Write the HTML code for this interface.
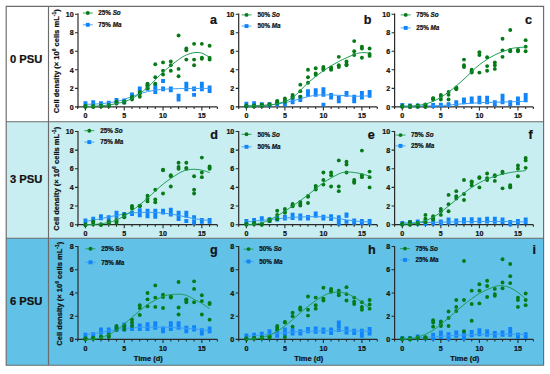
<!DOCTYPE html><html><head><meta charset="utf-8"><style>
html,body{margin:0;padding:0;background:#fff;}
svg{display:block;font-family:"Liberation Sans",sans-serif;font-weight:bold;}
text{stroke:#111;stroke-width:0.22px;}
.tk{font-size:7.1px;fill:#111;}
.lg{font-size:6.3px;fill:#111;}
.yl{font-size:7.55px;fill:#111;}
.sup{font-size:5px;}
.tl{font-size:7.5px;fill:#111;}
.lt{font-size:12.6px;fill:#111;}
.psu{font-size:11.2px;fill:#111;}
</style></head><body>
<svg width="550" height="374" viewBox="0 0 550 374">
<rect width="550" height="374" fill="#fff"/>
<rect x="6.2" y="6" width="537.4" height="115.7" fill="#ffffff"/>
<rect x="6.2" y="121.7" width="537.4" height="116.5" fill="#c9eef1"/>
<rect x="6.2" y="238.2" width="537.4" height="127.1" fill="#62c1e6"/>
<path d="M6.2 6.3H543.6V365.2H6.2ZM48.5 6.3V365.2M6.2 121.7H543.6M6.2 238.2H543.6" stroke="#6b6b6b" stroke-width="1.15" fill="none"/>
<text x="26.2" y="62.8" text-anchor="middle" class="psu">0 PSU</text>
<text x="26.2" y="182.6" text-anchor="middle" class="psu">3 PSU</text>
<text x="26.2" y="304.6" text-anchor="middle" class="psu">6 PSU</text>
<g fill="#077a17">
<path d="M78 13.6V107.5" stroke="#2a2a2a" stroke-width="1.2" fill="none"/>
<path d="M77.4 106.9H217.37" stroke="#2a2a2a" stroke-width="1.2" fill="none"/>
<text x="73.6" y="109.6" text-anchor="end" class="tk">0</text>
<text x="73.6" y="91.06" text-anchor="end" class="tk">2</text>
<text x="73.6" y="72.52" text-anchor="end" class="tk">4</text>
<text x="73.6" y="53.98" text-anchor="end" class="tk">6</text>
<text x="73.6" y="35.44" text-anchor="end" class="tk">8</text>
<text x="73.6" y="16.9" text-anchor="end" class="tk">10</text>
<text x="85.45" y="118.1" text-anchor="middle" class="tk">0</text>
<text x="124.25" y="118.1" text-anchor="middle" class="tk">5</text>
<text x="163.05" y="118.1" text-anchor="middle" class="tk">10</text>
<text x="201.85" y="118.1" text-anchor="middle" class="tk">15</text>
<path d="M75 106.9H78M75 88.36H78M75 69.82H78M75 51.28H78M75 32.74H78M75 14.2H78M77.69 106.9V108.9M85.45 106.9V110.5M93.21 106.9V108.9M100.97 106.9V108.9M108.73 106.9V108.9M116.49 106.9V108.9M124.25 106.9V110.5M132.01 106.9V108.9M139.77 106.9V108.9M147.53 106.9V108.9M155.29 106.9V108.9M163.05 106.9V110.5M170.81 106.9V108.9M178.57 106.9V108.9M186.33 106.9V108.9M194.09 106.9V108.9M201.85 106.9V110.5M209.61 106.9V108.9M217.37 106.9V108.9" stroke="#2a2a2a" stroke-width="1.1" fill="none"/>
<path d="M83.5 102.17h3.9v3.9h-3.9zM83.5 101.71h3.9v3.9h-3.9zM83.5 101.24h3.9v3.9h-3.9zM91.26 101.71h3.9v3.9h-3.9zM91.26 101.24h3.9v3.9h-3.9zM91.26 100.31h3.9v3.9h-3.9zM99.02 102.17h3.9v3.9h-3.9zM99.02 101.71h3.9v3.9h-3.9zM99.02 101.24h3.9v3.9h-3.9zM106.78 101.71h3.9v3.9h-3.9zM106.78 101.24h3.9v3.9h-3.9zM106.78 100.78h3.9v3.9h-3.9zM114.54 99.39h3.9v3.9h-3.9zM114.54 98.92h3.9v3.9h-3.9zM114.54 98h3.9v3.9h-3.9zM122.3 100.31h3.9v3.9h-3.9zM122.3 99.39h3.9v3.9h-3.9zM122.3 98.46h3.9v3.9h-3.9zM130.06 95.68h3.9v3.9h-3.9zM130.06 93.83h3.9v3.9h-3.9zM130.06 92.44h3.9v3.9h-3.9zM137.82 90.12h3.9v3.9h-3.9zM137.82 88.73h3.9v3.9h-3.9zM137.82 86.41h3.9v3.9h-3.9zM145.58 86.87h3.9v3.9h-3.9zM145.58 85.02h3.9v3.9h-3.9zM145.58 83.17h3.9v3.9h-3.9zM153.34 90.12h3.9v3.9h-3.9zM153.34 86.87h3.9v3.9h-3.9zM153.34 83.63h3.9v3.9h-3.9zM161.1 78.99h3.9v3.9h-3.9zM161.1 87.34h3.9v3.9h-3.9zM161.1 86.41h3.9v3.9h-3.9zM168.86 88.26h3.9v3.9h-3.9zM168.86 87.34h3.9v3.9h-3.9zM168.86 86.41h3.9v3.9h-3.9zM176.62 97.53h3.9v3.9h-3.9zM176.62 95.68h3.9v3.9h-3.9zM176.62 93.83h3.9v3.9h-3.9zM184.38 87.34h3.9v3.9h-3.9zM184.38 84.56h3.9v3.9h-3.9zM184.38 81.78h3.9v3.9h-3.9zM192.14 87.34h3.9v3.9h-3.9zM192.14 86.41h3.9v3.9h-3.9zM192.14 92.9h3.9v3.9h-3.9zM199.9 87.34h3.9v3.9h-3.9zM199.9 84.56h3.9v3.9h-3.9zM199.9 81.78h3.9v3.9h-3.9zM207.66 89.19h3.9v3.9h-3.9zM207.66 87.34h3.9v3.9h-3.9zM207.66 85.48h3.9v3.9h-3.9z" fill="#0f84fb"/>
<path d="M85.45 104.4C88.04 104.27 95.8 104.13 100.97 103.66C106.14 103.18 112.61 102.25 116.49 101.52C120.37 100.8 121.66 100.13 124.25 99.3C126.84 98.46 129.42 97.44 132.01 96.52C134.6 95.59 137.18 94.56 139.77 93.74C142.36 92.92 144.94 92.19 147.53 91.6C150.12 91.02 152.7 90.6 155.29 90.21C157.88 89.83 159.17 89.55 163.05 89.29C166.93 89.02 170.81 88.79 178.57 88.64C186.33 88.48 204.44 88.41 209.61 88.36" stroke="#3a9ef8" stroke-width="1" fill="none"/>
<circle cx="85.45" cy="106.9" r="1.95"/>
<circle cx="85.45" cy="106.44" r="1.95"/>
<circle cx="85.45" cy="105.97" r="1.95"/>
<circle cx="93.21" cy="106.9" r="1.95"/>
<circle cx="93.21" cy="106.44" r="1.95"/>
<circle cx="93.21" cy="105.97" r="1.95"/>
<circle cx="100.97" cy="106.44" r="1.95"/>
<circle cx="100.97" cy="105.97" r="1.95"/>
<circle cx="100.97" cy="105.51" r="1.95"/>
<circle cx="108.73" cy="105.97" r="1.95"/>
<circle cx="108.73" cy="105.51" r="1.95"/>
<circle cx="108.73" cy="105.05" r="1.95"/>
<circle cx="116.49" cy="103.66" r="1.95"/>
<circle cx="116.49" cy="102.73" r="1.95"/>
<circle cx="116.49" cy="101.8" r="1.95"/>
<circle cx="124.25" cy="102.73" r="1.95"/>
<circle cx="124.25" cy="101.8" r="1.95"/>
<circle cx="124.25" cy="101.34" r="1.95"/>
<circle cx="132.01" cy="99.48" r="1.95"/>
<circle cx="132.01" cy="98.09" r="1.95"/>
<circle cx="132.01" cy="96.7" r="1.95"/>
<circle cx="139.77" cy="96.7" r="1.95"/>
<circle cx="139.77" cy="93.92" r="1.95"/>
<circle cx="139.77" cy="92.07" r="1.95"/>
<circle cx="147.53" cy="88.36" r="1.95"/>
<circle cx="147.53" cy="85.58" r="1.95"/>
<circle cx="147.53" cy="83.73" r="1.95"/>
<circle cx="155.29" cy="64.26" r="1.95"/>
<circle cx="155.29" cy="77.24" r="1.95"/>
<circle cx="155.29" cy="83.73" r="1.95"/>
<circle cx="163.05" cy="62.4" r="1.95"/>
<circle cx="163.05" cy="70.75" r="1.95"/>
<circle cx="163.05" cy="74.46" r="1.95"/>
<circle cx="170.81" cy="61.48" r="1.95"/>
<circle cx="170.81" cy="65.19" r="1.95"/>
<circle cx="170.81" cy="70.75" r="1.95"/>
<circle cx="178.57" cy="35.52" r="1.95"/>
<circle cx="178.57" cy="68.89" r="1.95"/>
<circle cx="178.57" cy="76.31" r="1.95"/>
<circle cx="186.33" cy="48.5" r="1.95"/>
<circle cx="186.33" cy="59.62" r="1.95"/>
<circle cx="186.33" cy="50.35" r="1.95"/>
<circle cx="194.09" cy="43.86" r="1.95"/>
<circle cx="194.09" cy="59.62" r="1.95"/>
<circle cx="194.09" cy="65.19" r="1.95"/>
<circle cx="201.85" cy="43.86" r="1.95"/>
<circle cx="201.85" cy="58.7" r="1.95"/>
<circle cx="201.85" cy="57.77" r="1.95"/>
<circle cx="209.61" cy="45.72" r="1.95"/>
<circle cx="209.61" cy="57.77" r="1.95"/>
<circle cx="209.61" cy="59.62" r="1.95"/>
<path d="M85.45 106.44C88.04 106.33 95.8 106.25 100.97 105.79C106.14 105.32 111.32 104.86 116.49 103.66C121.66 102.45 126.84 101.26 132.01 98.56C137.18 95.85 142.36 91.84 147.53 87.43C152.7 83.03 157.88 76.77 163.05 72.14C168.22 67.5 174.69 62.48 178.57 59.62C182.45 56.76 183.74 56.15 186.33 54.99C188.92 53.83 191.5 52.98 194.09 52.67C196.68 52.36 199.26 52.36 201.85 53.13C204.44 53.91 208.32 56.61 209.61 57.31" stroke="#1f9d55" stroke-width="1" fill="none"/>
<path d="M82.8 13h10" stroke="#1f9d55" stroke-width="0.9"/>
<circle cx="87.8" cy="13" r="1.95" fill="#077a17"/>
<path d="M82.8 24.8h10" stroke="#3a9ef8" stroke-width="0.9"/>
<rect x="85.85" y="22.85" width="3.9" height="3.9" fill="#0f84fb"/>
<text x="98.3" y="15.2" class="lg">25% <tspan font-style="italic">So</tspan></text>
<text x="98.3" y="27" class="lg">75% <tspan font-style="italic">Ma</tspan></text>
<text transform="translate(58.9 61.25) rotate(-90)" text-anchor="middle" class="yl">Cell density (× 10<tspan class="sup" dy="-2.8">6</tspan><tspan dy="2.8"> cells mL</tspan><tspan class="sup" dy="-2.8">-1</tspan><tspan dy="2.8">)</tspan></text>
<path d="M238.7 13.6V107.5" stroke="#2a2a2a" stroke-width="1.2" fill="none"/>
<path d="M238.1 106.9H377.3" stroke="#2a2a2a" stroke-width="1.2" fill="none"/>
<text x="234.3" y="109.6" text-anchor="end" class="tk">0</text>
<text x="234.3" y="91.06" text-anchor="end" class="tk">2</text>
<text x="234.3" y="72.52" text-anchor="end" class="tk">4</text>
<text x="234.3" y="53.98" text-anchor="end" class="tk">6</text>
<text x="234.3" y="35.44" text-anchor="end" class="tk">8</text>
<text x="234.3" y="16.9" text-anchor="end" class="tk">10</text>
<text x="246.4" y="118.1" text-anchor="middle" class="tk">0</text>
<text x="284.9" y="118.1" text-anchor="middle" class="tk">5</text>
<text x="323.4" y="118.1" text-anchor="middle" class="tk">10</text>
<text x="361.9" y="118.1" text-anchor="middle" class="tk">15</text>
<path d="M235.7 106.9H238.7M235.7 88.36H238.7M235.7 69.82H238.7M235.7 51.28H238.7M235.7 32.74H238.7M235.7 14.2H238.7M238.7 106.9V108.9M246.4 106.9V110.5M254.1 106.9V108.9M261.8 106.9V108.9M269.5 106.9V108.9M277.2 106.9V108.9M284.9 106.9V110.5M292.6 106.9V108.9M300.3 106.9V108.9M308 106.9V108.9M315.7 106.9V108.9M323.4 106.9V110.5M331.1 106.9V108.9M338.8 106.9V108.9M346.5 106.9V108.9M354.2 106.9V108.9M361.9 106.9V110.5M369.6 106.9V108.9M377.3 106.9V108.9" stroke="#2a2a2a" stroke-width="1.1" fill="none"/>
<path d="M244.45 104.02h3.9v3.9h-3.9zM244.45 102.63h3.9v3.9h-3.9zM244.45 101.71h3.9v3.9h-3.9zM252.15 103.1h3.9v3.9h-3.9zM252.15 102.17h3.9v3.9h-3.9zM252.15 101.24h3.9v3.9h-3.9zM259.85 103.56h3.9v3.9h-3.9zM259.85 102.63h3.9v3.9h-3.9zM259.85 102.17h3.9v3.9h-3.9zM267.55 103.56h3.9v3.9h-3.9zM267.55 102.63h3.9v3.9h-3.9zM267.55 102.17h3.9v3.9h-3.9zM275.25 102.63h3.9v3.9h-3.9zM275.25 102.17h3.9v3.9h-3.9zM275.25 101.71h3.9v3.9h-3.9zM282.95 102.63h3.9v3.9h-3.9zM282.95 102.17h3.9v3.9h-3.9zM282.95 101.71h3.9v3.9h-3.9zM290.65 100.31h3.9v3.9h-3.9zM290.65 98.92h3.9v3.9h-3.9zM290.65 97.53h3.9v3.9h-3.9zM298.35 98h3.9v3.9h-3.9zM298.35 96.61h3.9v3.9h-3.9zM298.35 95.22h3.9v3.9h-3.9zM306.05 92.9h3.9v3.9h-3.9zM306.05 91.05h3.9v3.9h-3.9zM306.05 89.19h3.9v3.9h-3.9zM313.75 92.9h3.9v3.9h-3.9zM313.75 90.58h3.9v3.9h-3.9zM313.75 88.26h3.9v3.9h-3.9zM321.45 92.9h3.9v3.9h-3.9zM321.45 90.12h3.9v3.9h-3.9zM321.45 87.34h3.9v3.9h-3.9zM321.45 102.63h3.9v3.9h-3.9zM329.15 95.68h3.9v3.9h-3.9zM329.15 94.29h3.9v3.9h-3.9zM329.15 92.9h3.9v3.9h-3.9zM336.85 99.39h3.9v3.9h-3.9zM336.85 97.53h3.9v3.9h-3.9zM336.85 95.68h3.9v3.9h-3.9zM344.55 92.9h3.9v3.9h-3.9zM344.55 91.97h3.9v3.9h-3.9zM344.55 91.05h3.9v3.9h-3.9zM352.25 99.39h3.9v3.9h-3.9zM352.25 97.07h3.9v3.9h-3.9zM352.25 94.75h3.9v3.9h-3.9zM359.95 95.68h3.9v3.9h-3.9zM359.95 93.36h3.9v3.9h-3.9zM359.95 91.05h3.9v3.9h-3.9zM367.65 93.83h3.9v3.9h-3.9zM367.65 91.97h3.9v3.9h-3.9zM367.65 90.12h3.9v3.9h-3.9z" fill="#0f84fb"/>
<path d="M246.4 105.97C248.97 105.9 256.67 105.82 261.8 105.51C266.93 105.2 272.07 104.89 277.2 104.12C282.33 103.35 287.47 102.11 292.6 100.87C297.73 99.64 304.15 97.63 308 96.7C311.85 95.78 313.13 95.62 315.7 95.31C318.27 95 319.55 94.85 323.4 94.85C327.25 94.85 333.67 95.08 338.8 95.31C343.93 95.54 349.07 96.16 354.2 96.24C359.33 96.32 367.03 95.85 369.6 95.78" stroke="#3a9ef8" stroke-width="1" fill="none"/>
<circle cx="246.4" cy="105.97" r="1.95"/>
<circle cx="246.4" cy="106.44" r="1.95"/>
<circle cx="246.4" cy="105.51" r="1.95"/>
<circle cx="254.1" cy="105.97" r="1.95"/>
<circle cx="254.1" cy="106.44" r="1.95"/>
<circle cx="254.1" cy="105.51" r="1.95"/>
<circle cx="261.8" cy="105.05" r="1.95"/>
<circle cx="261.8" cy="105.97" r="1.95"/>
<circle cx="261.8" cy="104.58" r="1.95"/>
<circle cx="269.5" cy="104.58" r="1.95"/>
<circle cx="269.5" cy="105.05" r="1.95"/>
<circle cx="269.5" cy="104.12" r="1.95"/>
<circle cx="277.2" cy="103.19" r="1.95"/>
<circle cx="277.2" cy="101.8" r="1.95"/>
<circle cx="277.2" cy="100.87" r="1.95"/>
<circle cx="284.9" cy="101.8" r="1.95"/>
<circle cx="284.9" cy="100.41" r="1.95"/>
<circle cx="284.9" cy="98.56" r="1.95"/>
<circle cx="292.6" cy="97.63" r="1.95"/>
<circle cx="292.6" cy="96.24" r="1.95"/>
<circle cx="292.6" cy="94.85" r="1.95"/>
<circle cx="300.3" cy="84.65" r="1.95"/>
<circle cx="300.3" cy="91.14" r="1.95"/>
<circle cx="300.3" cy="96.7" r="1.95"/>
<circle cx="308" cy="69.82" r="1.95"/>
<circle cx="308" cy="77.24" r="1.95"/>
<circle cx="308" cy="82.8" r="1.95"/>
<circle cx="315.7" cy="68.24" r="1.95"/>
<circle cx="315.7" cy="73.53" r="1.95"/>
<circle cx="315.7" cy="74.92" r="1.95"/>
<circle cx="323.4" cy="67.04" r="1.95"/>
<circle cx="323.4" cy="69.82" r="1.95"/>
<circle cx="323.4" cy="68.43" r="1.95"/>
<circle cx="331.1" cy="67.5" r="1.95"/>
<circle cx="331.1" cy="69.82" r="1.95"/>
<circle cx="331.1" cy="68.89" r="1.95"/>
<circle cx="338.8" cy="56.84" r="1.95"/>
<circle cx="338.8" cy="65.19" r="1.95"/>
<circle cx="338.8" cy="67.04" r="1.95"/>
<circle cx="346.5" cy="61.48" r="1.95"/>
<circle cx="346.5" cy="65.19" r="1.95"/>
<circle cx="346.5" cy="64.26" r="1.95"/>
<circle cx="354.2" cy="41.08" r="1.95"/>
<circle cx="354.2" cy="51.28" r="1.95"/>
<circle cx="354.2" cy="54.99" r="1.95"/>
<circle cx="361.9" cy="46.65" r="1.95"/>
<circle cx="361.9" cy="48.5" r="1.95"/>
<circle cx="361.9" cy="57.77" r="1.95"/>
<circle cx="369.6" cy="48.5" r="1.95"/>
<circle cx="369.6" cy="54.06" r="1.95"/>
<circle cx="369.6" cy="55.92" r="1.95"/>
<path d="M246.4 105.97C248.97 105.9 256.67 105.9 261.8 105.51C266.93 105.12 272.07 104.97 277.2 103.66C282.33 102.34 287.47 101.11 292.6 97.63C297.73 94.15 302.87 87.28 308 82.8C313.13 78.32 318.27 74.3 323.4 70.75C328.53 67.19 333.67 64.18 338.8 61.48C343.93 58.77 350.35 55.99 354.2 54.52C358.05 53.06 359.33 52.9 361.9 52.67C364.47 52.44 368.32 53.06 369.6 53.13" stroke="#1f9d55" stroke-width="1" fill="none"/>
<path d="M241.5 14.9h10" stroke="#1f9d55" stroke-width="0.9"/>
<circle cx="246.5" cy="14.9" r="1.95" fill="#077a17"/>
<path d="M241.5 26.1h10" stroke="#3a9ef8" stroke-width="0.9"/>
<rect x="244.55" y="24.15" width="3.9" height="3.9" fill="#0f84fb"/>
<text x="257.4" y="17.1" class="lg">50% <tspan font-style="italic">So</tspan></text>
<text x="257.4" y="28.3" class="lg">50% <tspan font-style="italic">Ma</tspan></text>
<path d="M394.6 13.6V107.5" stroke="#2a2a2a" stroke-width="1.2" fill="none"/>
<path d="M394 106.9H533.37" stroke="#2a2a2a" stroke-width="1.2" fill="none"/>
<text x="390.2" y="109.6" text-anchor="end" class="tk">0</text>
<text x="390.2" y="91.06" text-anchor="end" class="tk">2</text>
<text x="390.2" y="72.52" text-anchor="end" class="tk">4</text>
<text x="390.2" y="53.98" text-anchor="end" class="tk">6</text>
<text x="390.2" y="35.44" text-anchor="end" class="tk">8</text>
<text x="390.2" y="16.9" text-anchor="end" class="tk">10</text>
<text x="402.3" y="118.1" text-anchor="middle" class="tk">0</text>
<text x="440.85" y="118.1" text-anchor="middle" class="tk">5</text>
<text x="479.4" y="118.1" text-anchor="middle" class="tk">10</text>
<text x="517.95" y="118.1" text-anchor="middle" class="tk">15</text>
<path d="M391.6 106.9H394.6M391.6 88.36H394.6M391.6 69.82H394.6M391.6 51.28H394.6M391.6 32.74H394.6M391.6 14.2H394.6M394.59 106.9V108.9M402.3 106.9V110.5M410.01 106.9V108.9M417.72 106.9V108.9M425.43 106.9V108.9M433.14 106.9V108.9M440.85 106.9V110.5M448.56 106.9V108.9M456.27 106.9V108.9M463.98 106.9V108.9M471.69 106.9V108.9M479.4 106.9V110.5M487.11 106.9V108.9M494.82 106.9V108.9M502.53 106.9V108.9M510.24 106.9V108.9M517.95 106.9V110.5M525.66 106.9V108.9M533.37 106.9V108.9" stroke="#2a2a2a" stroke-width="1.1" fill="none"/>
<path d="M400.35 104.02h3.9v3.9h-3.9zM400.35 103.56h3.9v3.9h-3.9zM400.35 103.1h3.9v3.9h-3.9zM408.06 104.49h3.9v3.9h-3.9zM408.06 104.02h3.9v3.9h-3.9zM408.06 103.56h3.9v3.9h-3.9zM415.77 104.49h3.9v3.9h-3.9zM415.77 104.02h3.9v3.9h-3.9zM415.77 103.56h3.9v3.9h-3.9zM423.48 104.02h3.9v3.9h-3.9zM423.48 103.56h3.9v3.9h-3.9zM423.48 103.1h3.9v3.9h-3.9zM431.19 104.02h3.9v3.9h-3.9zM431.19 103.56h3.9v3.9h-3.9zM431.19 103.1h3.9v3.9h-3.9zM438.9 103.56h3.9v3.9h-3.9zM438.9 103.1h3.9v3.9h-3.9zM438.9 102.63h3.9v3.9h-3.9zM446.61 103.1h3.9v3.9h-3.9zM446.61 102.63h3.9v3.9h-3.9zM446.61 102.17h3.9v3.9h-3.9zM454.32 102.17h3.9v3.9h-3.9zM454.32 101.24h3.9v3.9h-3.9zM454.32 100.31h3.9v3.9h-3.9zM462.03 100.31h3.9v3.9h-3.9zM462.03 98.92h3.9v3.9h-3.9zM462.03 97.53h3.9v3.9h-3.9zM469.74 99.85h3.9v3.9h-3.9zM469.74 98h3.9v3.9h-3.9zM469.74 96.61h3.9v3.9h-3.9zM477.45 100.31h3.9v3.9h-3.9zM477.45 97.53h3.9v3.9h-3.9zM477.45 95.68h3.9v3.9h-3.9zM485.16 100.31h3.9v3.9h-3.9zM485.16 98h3.9v3.9h-3.9zM485.16 95.68h3.9v3.9h-3.9zM492.87 102.17h3.9v3.9h-3.9zM492.87 101.24h3.9v3.9h-3.9zM492.87 100.31h3.9v3.9h-3.9zM500.58 100.31h3.9v3.9h-3.9zM500.58 96.61h3.9v3.9h-3.9zM500.58 93.83h3.9v3.9h-3.9zM508.29 102.17h3.9v3.9h-3.9zM508.29 101.24h3.9v3.9h-3.9zM508.29 100.31h3.9v3.9h-3.9zM516 101.24h3.9v3.9h-3.9zM516 98.92h3.9v3.9h-3.9zM516 96.61h3.9v3.9h-3.9zM523.71 98.46h3.9v3.9h-3.9zM523.71 95.68h3.9v3.9h-3.9zM523.71 92.9h3.9v3.9h-3.9z" fill="#0f84fb"/>
<path d="M402.3 106.16C407.44 106.1 425.43 105.97 433.14 105.79C440.85 105.6 443.42 105.4 448.56 105.05C453.7 104.69 458.84 104.04 463.98 103.66C469.12 103.27 474.26 102.96 479.4 102.73C484.54 102.5 489.68 102.42 494.82 102.27C499.96 102.11 505.1 101.96 510.24 101.8C515.38 101.65 523.09 101.42 525.66 101.34" stroke="#3a9ef8" stroke-width="1" fill="none"/>
<circle cx="402.3" cy="106.44" r="1.95"/>
<circle cx="402.3" cy="106.9" r="1.95"/>
<circle cx="402.3" cy="105.97" r="1.95"/>
<circle cx="410.01" cy="106.44" r="1.95"/>
<circle cx="410.01" cy="106.9" r="1.95"/>
<circle cx="410.01" cy="105.97" r="1.95"/>
<circle cx="417.72" cy="105.97" r="1.95"/>
<circle cx="417.72" cy="105.51" r="1.95"/>
<circle cx="417.72" cy="106.44" r="1.95"/>
<circle cx="425.43" cy="105.97" r="1.95"/>
<circle cx="425.43" cy="104.4" r="1.95"/>
<circle cx="425.43" cy="106.9" r="1.95"/>
<circle cx="433.14" cy="98.09" r="1.95"/>
<circle cx="433.14" cy="99.48" r="1.95"/>
<circle cx="433.14" cy="98.56" r="1.95"/>
<circle cx="440.85" cy="94.85" r="1.95"/>
<circle cx="440.85" cy="96.7" r="1.95"/>
<circle cx="440.85" cy="99.48" r="1.95"/>
<circle cx="448.56" cy="92.07" r="1.95"/>
<circle cx="448.56" cy="94.85" r="1.95"/>
<circle cx="448.56" cy="99.48" r="1.95"/>
<circle cx="456.27" cy="87.43" r="1.95"/>
<circle cx="456.27" cy="89.29" r="1.95"/>
<circle cx="456.27" cy="88.36" r="1.95"/>
<circle cx="463.98" cy="59.62" r="1.95"/>
<circle cx="463.98" cy="65.19" r="1.95"/>
<circle cx="463.98" cy="67.04" r="1.95"/>
<circle cx="471.69" cy="69.82" r="1.95"/>
<circle cx="471.69" cy="72.6" r="1.95"/>
<circle cx="471.69" cy="71.21" r="1.95"/>
<circle cx="479.4" cy="52.21" r="1.95"/>
<circle cx="479.4" cy="54.99" r="1.95"/>
<circle cx="479.4" cy="72.6" r="1.95"/>
<circle cx="487.11" cy="57.31" r="1.95"/>
<circle cx="487.11" cy="66.11" r="1.95"/>
<circle cx="487.11" cy="70.75" r="1.95"/>
<circle cx="494.82" cy="62.4" r="1.95"/>
<circle cx="494.82" cy="65.19" r="1.95"/>
<circle cx="494.82" cy="68.89" r="1.95"/>
<circle cx="502.53" cy="38.77" r="1.95"/>
<circle cx="502.53" cy="50.35" r="1.95"/>
<circle cx="502.53" cy="56.84" r="1.95"/>
<circle cx="510.24" cy="29.96" r="1.95"/>
<circle cx="510.24" cy="49.89" r="1.95"/>
<circle cx="510.24" cy="51.28" r="1.95"/>
<circle cx="517.95" cy="49.89" r="1.95"/>
<circle cx="517.95" cy="51.28" r="1.95"/>
<circle cx="517.95" cy="50.35" r="1.95"/>
<circle cx="525.66" cy="40.16" r="1.95"/>
<circle cx="525.66" cy="46.65" r="1.95"/>
<circle cx="525.66" cy="51.28" r="1.95"/>
<path d="M402.3 106.44C404.87 106.28 412.58 106.36 417.72 105.51C422.86 104.66 428 103.58 433.14 101.34C438.28 99.1 443.42 95.78 448.56 92.07C453.7 88.36 458.84 83.65 463.98 79.09C469.12 74.53 474.26 68.74 479.4 64.72C484.54 60.7 489.68 57.61 494.82 54.99C499.96 52.36 506.38 50.2 510.24 48.96C514.1 47.73 515.38 47.88 517.95 47.57C520.52 47.26 524.38 47.19 525.66 47.11" stroke="#1f9d55" stroke-width="1" fill="none"/>
<path d="M400.7 14.9h10" stroke="#1f9d55" stroke-width="0.9"/>
<circle cx="405.7" cy="14.9" r="1.95" fill="#077a17"/>
<path d="M400.7 27.9h10" stroke="#3a9ef8" stroke-width="0.9"/>
<rect x="403.75" y="25.95" width="3.9" height="3.9" fill="#0f84fb"/>
<text x="416.2" y="17.1" class="lg">75% <tspan font-style="italic">So</tspan></text>
<text x="416.2" y="30.1" class="lg">25% <tspan font-style="italic">Ma</tspan></text>
<path d="M78 130.9V225.3" stroke="#2a2a2a" stroke-width="1.2" fill="none"/>
<path d="M77.4 224.7H217.37" stroke="#2a2a2a" stroke-width="1.2" fill="none"/>
<text x="73.6" y="227.4" text-anchor="end" class="tk">0</text>
<text x="73.6" y="208.76" text-anchor="end" class="tk">2</text>
<text x="73.6" y="190.12" text-anchor="end" class="tk">4</text>
<text x="73.6" y="171.48" text-anchor="end" class="tk">6</text>
<text x="73.6" y="152.84" text-anchor="end" class="tk">8</text>
<text x="73.6" y="134.2" text-anchor="end" class="tk">10</text>
<text x="85.45" y="235.9" text-anchor="middle" class="tk">0</text>
<text x="124.25" y="235.9" text-anchor="middle" class="tk">5</text>
<text x="163.05" y="235.9" text-anchor="middle" class="tk">10</text>
<text x="201.85" y="235.9" text-anchor="middle" class="tk">15</text>
<path d="M75 224.7H78M75 206.06H78M75 187.42H78M75 168.78H78M75 150.14H78M75 131.5H78M77.69 224.7V226.7M85.45 224.7V228.3M93.21 224.7V226.7M100.97 224.7V226.7M108.73 224.7V226.7M116.49 224.7V226.7M124.25 224.7V228.3M132.01 224.7V226.7M139.77 224.7V226.7M147.53 224.7V226.7M155.29 224.7V226.7M163.05 224.7V228.3M170.81 224.7V226.7M178.57 224.7V226.7M186.33 224.7V226.7M194.09 224.7V226.7M201.85 224.7V228.3M209.61 224.7V226.7M217.37 224.7V226.7" stroke="#2a2a2a" stroke-width="1.1" fill="none"/>
<path d="M83.5 219.21h3.9v3.9h-3.9zM83.5 218.84h3.9v3.9h-3.9zM83.5 218.56h3.9v3.9h-3.9zM91.26 217.62h3.9v3.9h-3.9zM91.26 217.16h3.9v3.9h-3.9zM91.26 216.69h3.9v3.9h-3.9zM99.02 216.23h3.9v3.9h-3.9zM99.02 215.29h3.9v3.9h-3.9zM99.02 214.36h3.9v3.9h-3.9zM106.78 217.62h3.9v3.9h-3.9zM106.78 216.23h3.9v3.9h-3.9zM106.78 215.29h3.9v3.9h-3.9zM114.54 214.36h3.9v3.9h-3.9zM114.54 212.5h3.9v3.9h-3.9zM114.54 210.63h3.9v3.9h-3.9zM122.3 214.36h3.9v3.9h-3.9zM122.3 212.96h3.9v3.9h-3.9zM122.3 212.03h3.9v3.9h-3.9zM130.06 212.03h3.9v3.9h-3.9zM130.06 211.1h3.9v3.9h-3.9zM130.06 210.63h3.9v3.9h-3.9zM137.82 213.43h3.9v3.9h-3.9zM137.82 210.17h3.9v3.9h-3.9zM137.82 208.3h3.9v3.9h-3.9zM145.58 214.36h3.9v3.9h-3.9zM145.58 211.57h3.9v3.9h-3.9zM145.58 208.77h3.9v3.9h-3.9zM153.34 214.83h3.9v3.9h-3.9zM153.34 212.03h3.9v3.9h-3.9zM153.34 208.77h3.9v3.9h-3.9zM161.1 210.63h3.9v3.9h-3.9zM161.1 209.7h3.9v3.9h-3.9zM161.1 208.77h3.9v3.9h-3.9zM168.86 212.5h3.9v3.9h-3.9zM168.86 210.17h3.9v3.9h-3.9zM168.86 207.84h3.9v3.9h-3.9zM176.62 217.16h3.9v3.9h-3.9zM176.62 213.9h3.9v3.9h-3.9zM176.62 210.63h3.9v3.9h-3.9zM184.38 219.02h3.9v3.9h-3.9zM184.38 213.9h3.9v3.9h-3.9zM184.38 210.63h3.9v3.9h-3.9zM192.14 220.89h3.9v3.9h-3.9zM192.14 219.49h3.9v3.9h-3.9zM192.14 215.29h3.9v3.9h-3.9zM199.9 219.95h3.9v3.9h-3.9zM199.9 219.02h3.9v3.9h-3.9zM199.9 218.09h3.9v3.9h-3.9zM207.66 219.95h3.9v3.9h-3.9zM207.66 219.02h3.9v3.9h-3.9zM207.66 218.09h3.9v3.9h-3.9z" fill="#0f84fb"/>
<path d="M85.45 221.44C88.04 220.97 95.8 219.65 100.97 218.64C106.14 217.63 111.32 216.31 116.49 215.38C121.66 214.45 126.84 213.56 132.01 213.05C137.18 212.54 142.36 212.3 147.53 212.3C152.7 212.3 157.88 212.54 163.05 213.05C168.22 213.56 173.4 214.45 178.57 215.38C183.74 216.31 188.92 217.79 194.09 218.64C199.26 219.5 207.02 220.2 209.61 220.51" stroke="#3a9ef8" stroke-width="1" fill="none"/>
<circle cx="85.45" cy="224.7" r="1.95"/>
<circle cx="85.45" cy="224.23" r="1.95"/>
<circle cx="85.45" cy="225.17" r="1.95"/>
<circle cx="93.21" cy="224.23" r="1.95"/>
<circle cx="93.21" cy="222.84" r="1.95"/>
<circle cx="93.21" cy="221.44" r="1.95"/>
<circle cx="100.97" cy="224.7" r="1.95"/>
<circle cx="100.97" cy="224.7" r="1.95"/>
<circle cx="100.97" cy="224.23" r="1.95"/>
<circle cx="108.73" cy="221.44" r="1.95"/>
<circle cx="108.73" cy="223.3" r="1.95"/>
<circle cx="108.73" cy="222.84" r="1.95"/>
<circle cx="116.49" cy="222.84" r="1.95"/>
<circle cx="116.49" cy="221.44" r="1.95"/>
<circle cx="116.49" cy="220.04" r="1.95"/>
<circle cx="124.25" cy="217.24" r="1.95"/>
<circle cx="124.25" cy="215.85" r="1.95"/>
<circle cx="124.25" cy="214.45" r="1.95"/>
<circle cx="132.01" cy="208.39" r="1.95"/>
<circle cx="132.01" cy="206.99" r="1.95"/>
<circle cx="132.01" cy="206.06" r="1.95"/>
<circle cx="139.77" cy="206.06" r="1.95"/>
<circle cx="139.77" cy="205.59" r="1.95"/>
<circle cx="139.77" cy="206.06" r="1.95"/>
<circle cx="147.53" cy="201.4" r="1.95"/>
<circle cx="147.53" cy="198.6" r="1.95"/>
<circle cx="147.53" cy="195.81" r="1.95"/>
<circle cx="155.29" cy="189.75" r="1.95"/>
<circle cx="155.29" cy="202.33" r="1.95"/>
<circle cx="155.29" cy="199.54" r="1.95"/>
<circle cx="163.05" cy="170.18" r="1.95"/>
<circle cx="163.05" cy="169.71" r="1.95"/>
<circle cx="163.05" cy="193.48" r="1.95"/>
<circle cx="170.81" cy="176.24" r="1.95"/>
<circle cx="170.81" cy="186.49" r="1.95"/>
<circle cx="170.81" cy="175.3" r="1.95"/>
<circle cx="178.57" cy="162.72" r="1.95"/>
<circle cx="178.57" cy="168.78" r="1.95"/>
<circle cx="178.57" cy="166.92" r="1.95"/>
<circle cx="186.33" cy="162.72" r="1.95"/>
<circle cx="186.33" cy="168.78" r="1.95"/>
<circle cx="186.33" cy="167.85" r="1.95"/>
<circle cx="194.09" cy="176.24" r="1.95"/>
<circle cx="194.09" cy="189.75" r="1.95"/>
<circle cx="194.09" cy="193.48" r="1.95"/>
<circle cx="201.85" cy="157.6" r="1.95"/>
<circle cx="201.85" cy="172.51" r="1.95"/>
<circle cx="201.85" cy="177.17" r="1.95"/>
<circle cx="209.61" cy="166.45" r="1.95"/>
<circle cx="209.61" cy="168.78" r="1.95"/>
<circle cx="209.61" cy="167.85" r="1.95"/>
<path d="M85.45 224.7C88.04 224.54 95.8 224.54 100.97 223.77C106.14 222.99 111.32 222.21 116.49 220.04C121.66 217.87 126.84 214.37 132.01 210.72C137.18 207.07 142.36 202.56 147.53 198.14C152.7 193.71 157.88 188.27 163.05 184.16C168.22 180.04 174.69 175.77 178.57 173.44C182.45 171.11 183.74 170.88 186.33 170.18C188.92 169.48 191.5 169.25 194.09 169.25C196.68 169.25 199.26 169.63 201.85 170.18C204.44 170.72 208.32 172.12 209.61 172.51" stroke="#1f9d55" stroke-width="1" fill="none"/>
<path d="M84.3 130.7h10" stroke="#1f9d55" stroke-width="0.9"/>
<circle cx="89.3" cy="130.7" r="1.95" fill="#077a17"/>
<path d="M84.3 142.1h10" stroke="#3a9ef8" stroke-width="0.9"/>
<rect x="87.35" y="140.15" width="3.9" height="3.9" fill="#0f84fb"/>
<text x="100.2" y="132.9" class="lg">25% <tspan font-style="italic">So</tspan></text>
<text x="100.2" y="144.3" class="lg">75% <tspan font-style="italic">Ma</tspan></text>
<text transform="translate(58.9 178.8) rotate(-90)" text-anchor="middle" class="yl">Cell density (× 10<tspan class="sup" dy="-2.8">6</tspan><tspan dy="2.8"> cells mL</tspan><tspan class="sup" dy="-2.8">-1</tspan><tspan dy="2.8">)</tspan></text>
<path d="M238.7 130.9V225.3" stroke="#2a2a2a" stroke-width="1.2" fill="none"/>
<path d="M238.1 224.7H377.3" stroke="#2a2a2a" stroke-width="1.2" fill="none"/>
<text x="234.3" y="227.4" text-anchor="end" class="tk">0</text>
<text x="234.3" y="208.76" text-anchor="end" class="tk">2</text>
<text x="234.3" y="190.12" text-anchor="end" class="tk">4</text>
<text x="234.3" y="171.48" text-anchor="end" class="tk">6</text>
<text x="234.3" y="152.84" text-anchor="end" class="tk">8</text>
<text x="234.3" y="134.2" text-anchor="end" class="tk">10</text>
<text x="246.4" y="235.9" text-anchor="middle" class="tk">0</text>
<text x="284.9" y="235.9" text-anchor="middle" class="tk">5</text>
<text x="323.4" y="235.9" text-anchor="middle" class="tk">10</text>
<text x="361.9" y="235.9" text-anchor="middle" class="tk">15</text>
<path d="M235.7 224.7H238.7M235.7 206.06H238.7M235.7 187.42H238.7M235.7 168.78H238.7M235.7 150.14H238.7M235.7 131.5H238.7M238.7 224.7V226.7M246.4 224.7V228.3M254.1 224.7V226.7M261.8 224.7V226.7M269.5 224.7V226.7M277.2 224.7V226.7M284.9 224.7V228.3M292.6 224.7V226.7M300.3 224.7V226.7M308 224.7V226.7M315.7 224.7V226.7M323.4 224.7V228.3M331.1 224.7V226.7M338.8 224.7V226.7M346.5 224.7V226.7M354.2 224.7V226.7M361.9 224.7V228.3M369.6 224.7V226.7M377.3 224.7V226.7" stroke="#2a2a2a" stroke-width="1.1" fill="none"/>
<path d="M244.45 220.42h3.9v3.9h-3.9zM244.45 219.49h3.9v3.9h-3.9zM244.45 219.02h3.9v3.9h-3.9zM252.15 219.02h3.9v3.9h-3.9zM252.15 218.56h3.9v3.9h-3.9zM252.15 218.09h3.9v3.9h-3.9zM259.85 217.62h3.9v3.9h-3.9zM259.85 216.69h3.9v3.9h-3.9zM259.85 216.23h3.9v3.9h-3.9zM267.55 219.02h3.9v3.9h-3.9zM267.55 218.09h3.9v3.9h-3.9zM267.55 217.16h3.9v3.9h-3.9zM275.25 217.62h3.9v3.9h-3.9zM275.25 216.69h3.9v3.9h-3.9zM275.25 216.04h3.9v3.9h-3.9zM282.95 216.69h3.9v3.9h-3.9zM282.95 215.76h3.9v3.9h-3.9zM282.95 215.01h3.9v3.9h-3.9zM290.65 216.04h3.9v3.9h-3.9zM290.65 214.36h3.9v3.9h-3.9zM290.65 212.78h3.9v3.9h-3.9zM298.35 216.69h3.9v3.9h-3.9zM298.35 215.29h3.9v3.9h-3.9zM298.35 213.43h3.9v3.9h-3.9zM306.05 216.69h3.9v3.9h-3.9zM306.05 215.76h3.9v3.9h-3.9zM306.05 215.01h3.9v3.9h-3.9zM313.75 213.9h3.9v3.9h-3.9zM313.75 212.5h3.9v3.9h-3.9zM313.75 211.38h3.9v3.9h-3.9zM321.45 216.69h3.9v3.9h-3.9zM321.45 215.76h3.9v3.9h-3.9zM321.45 214.83h3.9v3.9h-3.9zM329.15 217.16h3.9v3.9h-3.9zM329.15 215.29h3.9v3.9h-3.9zM329.15 214.36h3.9v3.9h-3.9zM336.85 221.82h3.9v3.9h-3.9zM336.85 218.09h3.9v3.9h-3.9zM336.85 215.29h3.9v3.9h-3.9zM344.55 219.95h3.9v3.9h-3.9zM344.55 213.9h3.9v3.9h-3.9zM344.55 212.5h3.9v3.9h-3.9zM352.25 220.89h3.9v3.9h-3.9zM352.25 219.95h3.9v3.9h-3.9zM352.25 218.56h3.9v3.9h-3.9zM359.95 220.89h3.9v3.9h-3.9zM359.95 219.95h3.9v3.9h-3.9zM359.95 219.02h3.9v3.9h-3.9zM367.65 220.89h3.9v3.9h-3.9zM367.65 219.95h3.9v3.9h-3.9zM367.65 219.02h3.9v3.9h-3.9z" fill="#0f84fb"/>
<path d="M246.4 221.9C250.25 221.52 261.8 220.32 269.5 219.57C277.2 218.83 286.18 217.9 292.6 217.43C299.02 216.96 302.87 216.89 308 216.78C313.13 216.67 318.27 216.47 323.4 216.78C328.53 217.09 333.67 217.94 338.8 218.64C343.93 219.34 349.07 220.43 354.2 220.97C359.33 221.52 367.03 221.75 369.6 221.9" stroke="#3a9ef8" stroke-width="1" fill="none"/>
<circle cx="246.4" cy="224.23" r="1.95"/>
<circle cx="246.4" cy="224.7" r="1.95"/>
<circle cx="246.4" cy="223.77" r="1.95"/>
<circle cx="254.1" cy="223.3" r="1.95"/>
<circle cx="254.1" cy="224.23" r="1.95"/>
<circle cx="254.1" cy="222.84" r="1.95"/>
<circle cx="261.8" cy="224.23" r="1.95"/>
<circle cx="261.8" cy="224.7" r="1.95"/>
<circle cx="261.8" cy="223.77" r="1.95"/>
<circle cx="269.5" cy="220.97" r="1.95"/>
<circle cx="269.5" cy="219.57" r="1.95"/>
<circle cx="269.5" cy="220.51" r="1.95"/>
<circle cx="277.2" cy="210.72" r="1.95"/>
<circle cx="277.2" cy="214.91" r="1.95"/>
<circle cx="277.2" cy="219.29" r="1.95"/>
<circle cx="284.9" cy="209.04" r="1.95"/>
<circle cx="284.9" cy="212.68" r="1.95"/>
<circle cx="284.9" cy="211.65" r="1.95"/>
<circle cx="292.6" cy="204.01" r="1.95"/>
<circle cx="292.6" cy="206.25" r="1.95"/>
<circle cx="292.6" cy="205.13" r="1.95"/>
<circle cx="300.3" cy="201.87" r="1.95"/>
<circle cx="300.3" cy="205.5" r="1.95"/>
<circle cx="300.3" cy="203.73" r="1.95"/>
<circle cx="308" cy="195.99" r="1.95"/>
<circle cx="308" cy="202.98" r="1.95"/>
<circle cx="308" cy="196.74" r="1.95"/>
<circle cx="315.7" cy="185.84" r="1.95"/>
<circle cx="315.7" cy="189.47" r="1.95"/>
<circle cx="315.7" cy="187.89" r="1.95"/>
<circle cx="323.4" cy="172.51" r="1.95"/>
<circle cx="323.4" cy="179.96" r="1.95"/>
<circle cx="323.4" cy="184.62" r="1.95"/>
<circle cx="331.1" cy="172.51" r="1.95"/>
<circle cx="331.1" cy="175.3" r="1.95"/>
<circle cx="331.1" cy="186.49" r="1.95"/>
<circle cx="338.8" cy="160.39" r="1.95"/>
<circle cx="338.8" cy="186.49" r="1.95"/>
<circle cx="338.8" cy="191.15" r="1.95"/>
<circle cx="346.5" cy="161.79" r="1.95"/>
<circle cx="346.5" cy="164.59" r="1.95"/>
<circle cx="346.5" cy="172.51" r="1.95"/>
<circle cx="354.2" cy="179.96" r="1.95"/>
<circle cx="354.2" cy="182.76" r="1.95"/>
<circle cx="354.2" cy="181.83" r="1.95"/>
<circle cx="361.9" cy="150.61" r="1.95"/>
<circle cx="361.9" cy="175.3" r="1.95"/>
<circle cx="361.9" cy="177.17" r="1.95"/>
<circle cx="369.6" cy="171.58" r="1.95"/>
<circle cx="369.6" cy="177.17" r="1.95"/>
<circle cx="369.6" cy="187.42" r="1.95"/>
<path d="M246.4 224.7C248.97 224.39 256.67 224.31 261.8 222.84C266.93 221.36 272.07 218.64 277.2 215.85C282.33 213.05 287.47 209.56 292.6 206.06C297.73 202.56 302.87 198.76 308 194.88C313.13 190.99 318.27 186.25 323.4 182.76C328.53 179.26 334.95 175.69 338.8 173.91C342.65 172.12 343.93 172.27 346.5 172.04C349.07 171.81 351.63 172.2 354.2 172.51C356.77 172.82 359.33 173.28 361.9 173.91C364.47 174.53 368.32 175.85 369.6 176.24" stroke="#1f9d55" stroke-width="1" fill="none"/>
<path d="M241.5 134.3h10" stroke="#1f9d55" stroke-width="0.9"/>
<circle cx="246.5" cy="134.3" r="1.95" fill="#077a17"/>
<path d="M241.5 146.8h10" stroke="#3a9ef8" stroke-width="0.9"/>
<rect x="244.55" y="144.85" width="3.9" height="3.9" fill="#0f84fb"/>
<text x="257.4" y="136.5" class="lg">50% <tspan font-style="italic">So</tspan></text>
<text x="257.4" y="149" class="lg">50% <tspan font-style="italic">Ma</tspan></text>
<path d="M394.6 130.9V225.3" stroke="#2a2a2a" stroke-width="1.2" fill="none"/>
<path d="M394 224.7H533.37" stroke="#2a2a2a" stroke-width="1.2" fill="none"/>
<text x="390.2" y="227.4" text-anchor="end" class="tk">0</text>
<text x="390.2" y="208.76" text-anchor="end" class="tk">2</text>
<text x="390.2" y="190.12" text-anchor="end" class="tk">4</text>
<text x="390.2" y="171.48" text-anchor="end" class="tk">6</text>
<text x="390.2" y="152.84" text-anchor="end" class="tk">8</text>
<text x="390.2" y="134.2" text-anchor="end" class="tk">10</text>
<text x="402.3" y="235.9" text-anchor="middle" class="tk">0</text>
<text x="440.85" y="235.9" text-anchor="middle" class="tk">5</text>
<text x="479.4" y="235.9" text-anchor="middle" class="tk">10</text>
<text x="517.95" y="235.9" text-anchor="middle" class="tk">15</text>
<path d="M391.6 224.7H394.6M391.6 206.06H394.6M391.6 187.42H394.6M391.6 168.78H394.6M391.6 150.14H394.6M391.6 131.5H394.6M394.59 224.7V226.7M402.3 224.7V228.3M410.01 224.7V226.7M417.72 224.7V226.7M425.43 224.7V226.7M433.14 224.7V226.7M440.85 224.7V228.3M448.56 224.7V226.7M456.27 224.7V226.7M463.98 224.7V226.7M471.69 224.7V226.7M479.4 224.7V228.3M487.11 224.7V226.7M494.82 224.7V226.7M502.53 224.7V226.7M510.24 224.7V226.7M517.95 224.7V228.3M525.66 224.7V226.7M533.37 224.7V226.7" stroke="#2a2a2a" stroke-width="1.1" fill="none"/>
<path d="M400.35 221.82h3.9v3.9h-3.9zM400.35 221.35h3.9v3.9h-3.9zM400.35 220.89h3.9v3.9h-3.9zM408.06 221.82h3.9v3.9h-3.9zM408.06 220.89h3.9v3.9h-3.9zM408.06 219.95h3.9v3.9h-3.9zM415.77 221.82h3.9v3.9h-3.9zM415.77 220.89h3.9v3.9h-3.9zM415.77 219.49h3.9v3.9h-3.9zM423.48 221.82h3.9v3.9h-3.9zM423.48 220.42h3.9v3.9h-3.9zM423.48 219.49h3.9v3.9h-3.9zM431.19 221.35h3.9v3.9h-3.9zM431.19 220.42h3.9v3.9h-3.9zM431.19 219.49h3.9v3.9h-3.9zM438.9 221.35h3.9v3.9h-3.9zM438.9 220.42h3.9v3.9h-3.9zM438.9 219.49h3.9v3.9h-3.9zM446.61 220.89h3.9v3.9h-3.9zM446.61 219.02h3.9v3.9h-3.9zM446.61 217.62h3.9v3.9h-3.9zM454.32 220.89h3.9v3.9h-3.9zM454.32 219.95h3.9v3.9h-3.9zM454.32 218.56h3.9v3.9h-3.9zM462.03 219.95h3.9v3.9h-3.9zM462.03 218.09h3.9v3.9h-3.9zM462.03 217.16h3.9v3.9h-3.9zM469.74 219.49h3.9v3.9h-3.9zM469.74 218.09h3.9v3.9h-3.9zM469.74 217.16h3.9v3.9h-3.9zM477.45 219.49h3.9v3.9h-3.9zM477.45 218.09h3.9v3.9h-3.9zM477.45 217.62h3.9v3.9h-3.9zM485.16 219.49h3.9v3.9h-3.9zM485.16 217.62h3.9v3.9h-3.9zM485.16 216.69h3.9v3.9h-3.9zM492.87 219.95h3.9v3.9h-3.9zM492.87 217.62h3.9v3.9h-3.9zM492.87 216.69h3.9v3.9h-3.9zM500.58 220.42h3.9v3.9h-3.9zM500.58 219.02h3.9v3.9h-3.9zM500.58 217.62h3.9v3.9h-3.9zM508.29 222.28h3.9v3.9h-3.9zM508.29 221.35h3.9v3.9h-3.9zM508.29 219.95h3.9v3.9h-3.9zM516 220.89h3.9v3.9h-3.9zM516 220.42h3.9v3.9h-3.9zM516 219.02h3.9v3.9h-3.9zM523.71 220.42h3.9v3.9h-3.9zM523.71 219.02h3.9v3.9h-3.9zM523.71 217.62h3.9v3.9h-3.9z" fill="#0f84fb"/>
<path d="M402.3 222.84C407.44 222.76 422.86 222.57 433.14 222.37C443.42 222.17 453.7 221.78 463.98 221.62C474.26 221.47 484.54 221.39 494.82 221.44C505.1 221.48 520.52 221.83 525.66 221.9" stroke="#3a9ef8" stroke-width="1" fill="none"/>
<circle cx="402.3" cy="224.23" r="1.95"/>
<circle cx="402.3" cy="224.7" r="1.95"/>
<circle cx="402.3" cy="223.77" r="1.95"/>
<circle cx="410.01" cy="223.3" r="1.95"/>
<circle cx="410.01" cy="224.7" r="1.95"/>
<circle cx="410.01" cy="221.9" r="1.95"/>
<circle cx="417.72" cy="223.3" r="1.95"/>
<circle cx="417.72" cy="223.77" r="1.95"/>
<circle cx="417.72" cy="222.84" r="1.95"/>
<circle cx="425.43" cy="214.91" r="1.95"/>
<circle cx="425.43" cy="218.64" r="1.95"/>
<circle cx="425.43" cy="222.37" r="1.95"/>
<circle cx="433.14" cy="216.31" r="1.95"/>
<circle cx="433.14" cy="219.57" r="1.95"/>
<circle cx="433.14" cy="218.18" r="1.95"/>
<circle cx="440.85" cy="208.86" r="1.95"/>
<circle cx="440.85" cy="214.91" r="1.95"/>
<circle cx="440.85" cy="211.19" r="1.95"/>
<circle cx="448.56" cy="194.88" r="1.95"/>
<circle cx="448.56" cy="204.2" r="1.95"/>
<circle cx="448.56" cy="211.19" r="1.95"/>
<circle cx="456.27" cy="191.15" r="1.95"/>
<circle cx="456.27" cy="196.27" r="1.95"/>
<circle cx="456.27" cy="198.6" r="1.95"/>
<circle cx="463.98" cy="179.96" r="1.95"/>
<circle cx="463.98" cy="193.94" r="1.95"/>
<circle cx="463.98" cy="200" r="1.95"/>
<circle cx="471.69" cy="181.36" r="1.95"/>
<circle cx="471.69" cy="185.56" r="1.95"/>
<circle cx="471.69" cy="182.76" r="1.95"/>
<circle cx="479.4" cy="177.17" r="1.95"/>
<circle cx="479.4" cy="187.42" r="1.95"/>
<circle cx="479.4" cy="178.1" r="1.95"/>
<circle cx="487.11" cy="173.44" r="1.95"/>
<circle cx="487.11" cy="178.1" r="1.95"/>
<circle cx="487.11" cy="179.96" r="1.95"/>
<circle cx="494.82" cy="175.3" r="1.95"/>
<circle cx="494.82" cy="180.9" r="1.95"/>
<circle cx="494.82" cy="176.24" r="1.95"/>
<circle cx="502.53" cy="171.58" r="1.95"/>
<circle cx="502.53" cy="172.97" r="1.95"/>
<circle cx="502.53" cy="188.35" r="1.95"/>
<circle cx="510.24" cy="185.09" r="1.95"/>
<circle cx="510.24" cy="187.42" r="1.95"/>
<circle cx="510.24" cy="186.49" r="1.95"/>
<circle cx="517.95" cy="165.52" r="1.95"/>
<circle cx="517.95" cy="168.78" r="1.95"/>
<circle cx="517.95" cy="176.24" r="1.95"/>
<circle cx="525.66" cy="158.06" r="1.95"/>
<circle cx="525.66" cy="160.39" r="1.95"/>
<circle cx="525.66" cy="167.85" r="1.95"/>
<path d="M402.3 224.23C404.87 224 412.58 224 417.72 222.84C422.86 221.67 428 220.04 433.14 217.24C438.28 214.45 443.42 210.1 448.56 206.06C453.7 202.02 458.84 196.9 463.98 193.01C469.12 189.13 474.26 185.56 479.4 182.76C484.54 179.96 489.68 177.94 494.82 176.24C499.96 174.53 505.1 173.44 510.24 172.51C515.38 171.58 523.09 170.95 525.66 170.64" stroke="#1f9d55" stroke-width="1" fill="none"/>
<path d="M395.5 135.1h10" stroke="#1f9d55" stroke-width="0.9"/>
<circle cx="400.5" cy="135.1" r="1.95" fill="#077a17"/>
<path d="M395.5 145.9h10" stroke="#3a9ef8" stroke-width="0.9"/>
<rect x="398.55" y="143.95" width="3.9" height="3.9" fill="#0f84fb"/>
<text x="411.1" y="137.3" class="lg">75% <tspan font-style="italic">So</tspan></text>
<text x="411.1" y="148.1" class="lg">25% <tspan font-style="italic">Ma</tspan></text>
<path d="M78 245.92V340" stroke="#2a2a2a" stroke-width="1.2" fill="none"/>
<path d="M77.4 339.4H217.37" stroke="#2a2a2a" stroke-width="1.2" fill="none"/>
<text x="73.6" y="342.1" text-anchor="end" class="tk">0</text>
<text x="73.6" y="318.88" text-anchor="end" class="tk">2</text>
<text x="73.6" y="295.66" text-anchor="end" class="tk">4</text>
<text x="73.6" y="272.44" text-anchor="end" class="tk">6</text>
<text x="73.6" y="249.22" text-anchor="end" class="tk">8</text>
<text x="85.45" y="350.9" text-anchor="middle" class="tk">0</text>
<text x="124.25" y="350.9" text-anchor="middle" class="tk">5</text>
<text x="163.05" y="350.9" text-anchor="middle" class="tk">10</text>
<text x="201.85" y="350.9" text-anchor="middle" class="tk">15</text>
<path d="M75 339.4H78M75 316.18H78M75 292.96H78M75 269.74H78M75 246.52H78M77.69 339.4V341.4M85.45 339.4V343M93.21 339.4V341.4M100.97 339.4V341.4M108.73 339.4V341.4M116.49 339.4V341.4M124.25 339.4V343M132.01 339.4V341.4M139.77 339.4V341.4M147.53 339.4V341.4M155.29 339.4V341.4M163.05 339.4V343M170.81 339.4V341.4M178.57 339.4V341.4M186.33 339.4V341.4M194.09 339.4V341.4M201.85 339.4V343M209.61 339.4V341.4M217.37 339.4V341.4" stroke="#2a2a2a" stroke-width="1.1" fill="none"/>
<path d="M83.5 333.62h3.9v3.9h-3.9zM83.5 333.15h3.9v3.9h-3.9zM83.5 332.81h3.9v3.9h-3.9zM91.26 333.39h3.9v3.9h-3.9zM91.26 332.81h3.9v3.9h-3.9zM91.26 332.23h3.9v3.9h-3.9zM99.02 330.48h3.9v3.9h-3.9zM99.02 329.09h3.9v3.9h-3.9zM99.02 327.58h3.9v3.9h-3.9zM106.78 330.48h3.9v3.9h-3.9zM106.78 329.09h3.9v3.9h-3.9zM106.78 327.58h3.9v3.9h-3.9zM114.54 328.16h3.9v3.9h-3.9zM114.54 327h3.9v3.9h-3.9zM114.54 326.07h3.9v3.9h-3.9zM122.3 327.58h3.9v3.9h-3.9zM122.3 325.26h3.9v3.9h-3.9zM122.3 322.59h3.9v3.9h-3.9zM130.06 327h3.9v3.9h-3.9zM130.06 325.26h3.9v3.9h-3.9zM130.06 323.52h3.9v3.9h-3.9zM137.82 327h3.9v3.9h-3.9zM137.82 325.84h3.9v3.9h-3.9zM137.82 323.52h3.9v3.9h-3.9zM145.58 327h3.9v3.9h-3.9zM145.58 324.68h3.9v3.9h-3.9zM145.58 322.36h3.9v3.9h-3.9zM153.34 325.84h3.9v3.9h-3.9zM153.34 323.52h3.9v3.9h-3.9zM153.34 321.2h3.9v3.9h-3.9zM161.1 329.32h3.9v3.9h-3.9zM161.1 327.58h3.9v3.9h-3.9zM161.1 326.42h3.9v3.9h-3.9zM168.86 327h3.9v3.9h-3.9zM168.86 324.1h3.9v3.9h-3.9zM168.86 321.2h3.9v3.9h-3.9zM176.62 325.84h3.9v3.9h-3.9zM176.62 322.94h3.9v3.9h-3.9zM176.62 321.2h3.9v3.9h-3.9zM184.38 329.32h3.9v3.9h-3.9zM184.38 327.58h3.9v3.9h-3.9zM184.38 325.84h3.9v3.9h-3.9zM192.14 327.58h3.9v3.9h-3.9zM192.14 326.42h3.9v3.9h-3.9zM192.14 325.26h3.9v3.9h-3.9zM199.9 331.64h3.9v3.9h-3.9zM199.9 329.9h3.9v3.9h-3.9zM199.9 328.16h3.9v3.9h-3.9zM207.66 329.32h3.9v3.9h-3.9zM207.66 327.58h3.9v3.9h-3.9zM207.66 326.42h3.9v3.9h-3.9z" fill="#0f84fb"/>
<path d="M85.45 334.76C88.04 334.37 95.8 333.3 100.97 332.43C106.14 331.56 111.32 330.31 116.49 329.53C121.66 328.76 126.84 328.18 132.01 327.79C137.18 327.4 142.36 327.31 147.53 327.21C152.7 327.11 157.88 327.11 163.05 327.21C168.22 327.31 173.4 327.5 178.57 327.79C183.74 328.08 188.92 328.47 194.09 328.95C199.26 329.43 207.02 330.4 209.61 330.69" stroke="#3a9ef8" stroke-width="1" fill="none"/>
<circle cx="85.45" cy="338.82" r="1.95"/>
<circle cx="85.45" cy="339.4" r="1.95"/>
<circle cx="85.45" cy="338.24" r="1.95"/>
<circle cx="93.21" cy="338.24" r="1.95"/>
<circle cx="93.21" cy="338.82" r="1.95"/>
<circle cx="93.21" cy="337.66" r="1.95"/>
<circle cx="100.97" cy="337.66" r="1.95"/>
<circle cx="100.97" cy="336.5" r="1.95"/>
<circle cx="100.97" cy="337.08" r="1.95"/>
<circle cx="108.73" cy="337.08" r="1.95"/>
<circle cx="108.73" cy="334.76" r="1.95"/>
<circle cx="108.73" cy="335.92" r="1.95"/>
<circle cx="116.49" cy="329.53" r="1.95"/>
<circle cx="116.49" cy="326.05" r="1.95"/>
<circle cx="116.49" cy="327.79" r="1.95"/>
<circle cx="124.25" cy="329.53" r="1.95"/>
<circle cx="124.25" cy="326.63" r="1.95"/>
<circle cx="124.25" cy="325.47" r="1.95"/>
<circle cx="132.01" cy="319.66" r="1.95"/>
<circle cx="132.01" cy="322.57" r="1.95"/>
<circle cx="132.01" cy="326.05" r="1.95"/>
<circle cx="139.77" cy="305.15" r="1.95"/>
<circle cx="139.77" cy="308.05" r="1.95"/>
<circle cx="139.77" cy="315.02" r="1.95"/>
<circle cx="147.53" cy="292.96" r="1.95"/>
<circle cx="147.53" cy="299.35" r="1.95"/>
<circle cx="147.53" cy="306.31" r="1.95"/>
<circle cx="155.29" cy="285.41" r="1.95"/>
<circle cx="155.29" cy="297.6" r="1.95"/>
<circle cx="155.29" cy="306.89" r="1.95"/>
<circle cx="163.05" cy="294.7" r="1.95"/>
<circle cx="163.05" cy="297.02" r="1.95"/>
<circle cx="163.05" cy="308.05" r="1.95"/>
<circle cx="170.81" cy="297.02" r="1.95"/>
<circle cx="170.81" cy="296.44" r="1.95"/>
<circle cx="170.81" cy="297.6" r="1.95"/>
<circle cx="178.57" cy="281.93" r="1.95"/>
<circle cx="178.57" cy="307.47" r="1.95"/>
<circle cx="178.57" cy="314.44" r="1.95"/>
<circle cx="186.33" cy="299.35" r="1.95"/>
<circle cx="186.33" cy="302.25" r="1.95"/>
<circle cx="186.33" cy="300.51" r="1.95"/>
<circle cx="194.09" cy="281.35" r="1.95"/>
<circle cx="194.09" cy="288.9" r="1.95"/>
<circle cx="194.09" cy="302.25" r="1.95"/>
<circle cx="201.85" cy="295.28" r="1.95"/>
<circle cx="201.85" cy="301.09" r="1.95"/>
<circle cx="201.85" cy="314.44" r="1.95"/>
<circle cx="209.61" cy="302.83" r="1.95"/>
<circle cx="209.61" cy="303.99" r="1.95"/>
<circle cx="209.61" cy="319.66" r="1.95"/>
<path d="M85.45 339.98C88.04 339.59 95.8 339.3 100.97 337.66C106.14 336.01 111.32 333.5 116.49 330.11C121.66 326.73 126.84 321.6 132.01 317.34C137.18 313.08 142.36 308.05 147.53 304.57C152.7 301.09 159.17 298.09 163.05 296.44C166.93 294.8 168.22 295.09 170.81 294.7C173.4 294.31 175.98 294.02 178.57 294.12C181.16 294.22 183.74 294.41 186.33 295.28C188.92 296.15 191.5 297.99 194.09 299.35C196.68 300.7 199.26 301.86 201.85 303.41C204.44 304.96 208.32 307.76 209.61 308.63" stroke="#1f9d55" stroke-width="1" fill="none"/>
<path d="M85.5 248.8h10" stroke="#1f9d55" stroke-width="0.9"/>
<circle cx="90.5" cy="248.8" r="1.95" fill="#077a17"/>
<path d="M85.5 262.3h10" stroke="#3a9ef8" stroke-width="0.9"/>
<rect x="88.55" y="260.35" width="3.9" height="3.9" fill="#0f84fb"/>
<text x="101.2" y="251" class="lg">25% <tspan>So</tspan></text>
<text x="101.2" y="264.5" class="lg">75% <tspan font-style="italic">Ma</tspan></text>
<text transform="translate(61.7 293.66) rotate(-90)" text-anchor="middle" class="yl">Cell density (× 10<tspan class="sup" dy="-2.8">6</tspan><tspan dy="2.8"> cells mL</tspan><tspan class="sup" dy="-2.8">-1</tspan><tspan dy="2.8">)</tspan></text>
<text x="148.32" y="361.3" text-anchor="middle" class="tl">Time (d)</text>
<path d="M238.7 245.92V340" stroke="#2a2a2a" stroke-width="1.2" fill="none"/>
<path d="M238.1 339.4H377.3" stroke="#2a2a2a" stroke-width="1.2" fill="none"/>
<text x="234.3" y="342.1" text-anchor="end" class="tk">0</text>
<text x="234.3" y="318.88" text-anchor="end" class="tk">2</text>
<text x="234.3" y="295.66" text-anchor="end" class="tk">4</text>
<text x="234.3" y="272.44" text-anchor="end" class="tk">6</text>
<text x="234.3" y="249.22" text-anchor="end" class="tk">8</text>
<text x="246.4" y="350.9" text-anchor="middle" class="tk">0</text>
<text x="284.9" y="350.9" text-anchor="middle" class="tk">5</text>
<text x="323.4" y="350.9" text-anchor="middle" class="tk">10</text>
<text x="361.9" y="350.9" text-anchor="middle" class="tk">15</text>
<path d="M235.7 339.4H238.7M235.7 316.18H238.7M235.7 292.96H238.7M235.7 269.74H238.7M235.7 246.52H238.7M238.7 339.4V341.4M246.4 339.4V343M254.1 339.4V341.4M261.8 339.4V341.4M269.5 339.4V341.4M277.2 339.4V341.4M284.9 339.4V343M292.6 339.4V341.4M300.3 339.4V341.4M308 339.4V341.4M315.7 339.4V341.4M323.4 339.4V343M331.1 339.4V341.4M338.8 339.4V341.4M346.5 339.4V341.4M354.2 339.4V341.4M361.9 339.4V343M369.6 339.4V341.4M377.3 339.4V341.4" stroke="#2a2a2a" stroke-width="1.1" fill="none"/>
<path d="M244.45 335.71h3.9v3.9h-3.9zM244.45 334.55h3.9v3.9h-3.9zM244.45 333.39h3.9v3.9h-3.9zM252.15 335.13h3.9v3.9h-3.9zM252.15 333.97h3.9v3.9h-3.9zM252.15 332.81h3.9v3.9h-3.9zM259.85 333.97h3.9v3.9h-3.9zM259.85 332.81h3.9v3.9h-3.9zM259.85 331.64h3.9v3.9h-3.9zM267.55 332.23h3.9v3.9h-3.9zM267.55 330.48h3.9v3.9h-3.9zM267.55 329.32h3.9v3.9h-3.9zM275.25 333.97h3.9v3.9h-3.9zM275.25 332.23h3.9v3.9h-3.9zM275.25 329.32h3.9v3.9h-3.9zM282.95 332.23h3.9v3.9h-3.9zM282.95 329.9h3.9v3.9h-3.9zM282.95 327.58h3.9v3.9h-3.9zM290.65 331.64h3.9v3.9h-3.9zM290.65 329.9h3.9v3.9h-3.9zM290.65 328.16h3.9v3.9h-3.9zM298.35 331.64h3.9v3.9h-3.9zM298.35 330.48h3.9v3.9h-3.9zM298.35 329.32h3.9v3.9h-3.9zM306.05 329.32h3.9v3.9h-3.9zM306.05 328.16h3.9v3.9h-3.9zM306.05 327h3.9v3.9h-3.9zM313.75 329.9h3.9v3.9h-3.9zM313.75 328.16h3.9v3.9h-3.9zM313.75 326.42h3.9v3.9h-3.9zM321.45 329.9h3.9v3.9h-3.9zM321.45 328.74h3.9v3.9h-3.9zM321.45 327.58h3.9v3.9h-3.9zM329.15 331.06h3.9v3.9h-3.9zM329.15 329.32h3.9v3.9h-3.9zM329.15 327.58h3.9v3.9h-3.9zM336.85 328.16h3.9v3.9h-3.9zM336.85 324.1h3.9v3.9h-3.9zM336.85 320.62h3.9v3.9h-3.9zM344.55 330.48h3.9v3.9h-3.9zM344.55 328.16h3.9v3.9h-3.9zM344.55 326.42h3.9v3.9h-3.9zM352.25 331.06h3.9v3.9h-3.9zM352.25 329.9h3.9v3.9h-3.9zM352.25 328.74h3.9v3.9h-3.9zM359.95 333.97h3.9v3.9h-3.9zM359.95 331.06h3.9v3.9h-3.9zM359.95 328.74h3.9v3.9h-3.9zM367.65 331.64h3.9v3.9h-3.9zM367.65 329.32h3.9v3.9h-3.9zM367.65 327h3.9v3.9h-3.9z" fill="#0f84fb"/>
<path d="M246.4 336.5C248.97 336.25 256.67 335.51 261.8 334.99C266.93 334.47 272.07 333.85 277.2 333.36C282.33 332.88 287.47 332.43 292.6 332.09C297.73 331.74 300.3 331.51 308 331.27C315.7 331.04 328.53 330.69 338.8 330.69C349.07 330.69 364.47 331.18 369.6 331.27" stroke="#3a9ef8" stroke-width="1" fill="none"/>
<circle cx="246.4" cy="338.82" r="1.95"/>
<circle cx="246.4" cy="339.4" r="1.95"/>
<circle cx="246.4" cy="338.24" r="1.95"/>
<circle cx="254.1" cy="338.24" r="1.95"/>
<circle cx="254.1" cy="338.82" r="1.95"/>
<circle cx="254.1" cy="337.66" r="1.95"/>
<circle cx="261.8" cy="337.66" r="1.95"/>
<circle cx="261.8" cy="338.24" r="1.95"/>
<circle cx="261.8" cy="337.08" r="1.95"/>
<circle cx="269.5" cy="337.08" r="1.95"/>
<circle cx="269.5" cy="337.66" r="1.95"/>
<circle cx="269.5" cy="336.5" r="1.95"/>
<circle cx="277.2" cy="329.53" r="1.95"/>
<circle cx="277.2" cy="327.79" r="1.95"/>
<circle cx="277.2" cy="326.05" r="1.95"/>
<circle cx="284.9" cy="321.98" r="1.95"/>
<circle cx="284.9" cy="337.08" r="1.95"/>
<circle cx="284.9" cy="322.57" r="1.95"/>
<circle cx="292.6" cy="312.7" r="1.95"/>
<circle cx="292.6" cy="316.18" r="1.95"/>
<circle cx="292.6" cy="326.63" r="1.95"/>
<circle cx="300.3" cy="307.47" r="1.95"/>
<circle cx="300.3" cy="309.79" r="1.95"/>
<circle cx="300.3" cy="308.63" r="1.95"/>
<circle cx="308" cy="296.44" r="1.95"/>
<circle cx="308" cy="309.79" r="1.95"/>
<circle cx="308" cy="315.6" r="1.95"/>
<circle cx="315.7" cy="297.6" r="1.95"/>
<circle cx="315.7" cy="305.15" r="1.95"/>
<circle cx="315.7" cy="308.63" r="1.95"/>
<circle cx="323.4" cy="287.74" r="1.95"/>
<circle cx="323.4" cy="298.76" r="1.95"/>
<circle cx="323.4" cy="300.51" r="1.95"/>
<circle cx="331.1" cy="288.9" r="1.95"/>
<circle cx="331.1" cy="291.8" r="1.95"/>
<circle cx="331.1" cy="290.64" r="1.95"/>
<circle cx="338.8" cy="290.64" r="1.95"/>
<circle cx="338.8" cy="292.96" r="1.95"/>
<circle cx="338.8" cy="295.28" r="1.95"/>
<circle cx="346.5" cy="287.15" r="1.95"/>
<circle cx="346.5" cy="294.12" r="1.95"/>
<circle cx="346.5" cy="300.51" r="1.95"/>
<circle cx="354.2" cy="297.6" r="1.95"/>
<circle cx="354.2" cy="301.67" r="1.95"/>
<circle cx="354.2" cy="303.99" r="1.95"/>
<circle cx="361.9" cy="302.25" r="1.95"/>
<circle cx="361.9" cy="306.89" r="1.95"/>
<circle cx="361.9" cy="309.79" r="1.95"/>
<circle cx="369.6" cy="299.93" r="1.95"/>
<circle cx="369.6" cy="304.57" r="1.95"/>
<circle cx="369.6" cy="308.63" r="1.95"/>
<path d="M246.4 339.4C248.97 339.11 256.67 339.01 261.8 337.66C266.93 336.3 272.07 334.27 277.2 331.27C282.33 328.27 287.47 323.82 292.6 319.66C297.73 315.5 302.87 310.28 308 306.31C313.13 302.34 319.55 298.09 323.4 295.86C327.25 293.64 328.53 293.6 331.1 292.96C333.67 292.32 336.23 291.93 338.8 292.03C341.37 292.13 343.93 292.71 346.5 293.54C349.07 294.37 351.63 295.57 354.2 297.02C356.77 298.47 359.33 300.41 361.9 302.25C364.47 304.09 368.32 307.09 369.6 308.05" stroke="#1f9d55" stroke-width="1" fill="none"/>
<path d="M243.5 249.1h10" stroke="#1f9d55" stroke-width="0.9"/>
<circle cx="248.5" cy="249.1" r="1.95" fill="#077a17"/>
<path d="M243.5 261.5h10" stroke="#3a9ef8" stroke-width="0.9"/>
<rect x="246.55" y="259.55" width="3.9" height="3.9" fill="#0f84fb"/>
<text x="259.3" y="251.3" class="lg">50% <tspan font-style="italic">So</tspan></text>
<text x="259.3" y="263.7" class="lg">50% <tspan font-style="italic">Ma</tspan></text>
<text x="308.78" y="361.3" text-anchor="middle" class="tl">Time (d)</text>
<path d="M394.6 245.92V340" stroke="#2a2a2a" stroke-width="1.2" fill="none"/>
<path d="M394 339.4H533.37" stroke="#2a2a2a" stroke-width="1.2" fill="none"/>
<text x="390.2" y="342.1" text-anchor="end" class="tk">0</text>
<text x="390.2" y="318.88" text-anchor="end" class="tk">2</text>
<text x="390.2" y="295.66" text-anchor="end" class="tk">4</text>
<text x="390.2" y="272.44" text-anchor="end" class="tk">6</text>
<text x="390.2" y="249.22" text-anchor="end" class="tk">8</text>
<text x="402.3" y="350.9" text-anchor="middle" class="tk">0</text>
<text x="440.85" y="350.9" text-anchor="middle" class="tk">5</text>
<text x="479.4" y="350.9" text-anchor="middle" class="tk">10</text>
<text x="517.95" y="350.9" text-anchor="middle" class="tk">15</text>
<path d="M391.6 339.4H394.6M391.6 316.18H394.6M391.6 292.96H394.6M391.6 269.74H394.6M391.6 246.52H394.6M394.59 339.4V341.4M402.3 339.4V343M410.01 339.4V341.4M417.72 339.4V341.4M425.43 339.4V341.4M433.14 339.4V341.4M440.85 339.4V343M448.56 339.4V341.4M456.27 339.4V341.4M463.98 339.4V341.4M471.69 339.4V341.4M479.4 339.4V343M487.11 339.4V341.4M494.82 339.4V341.4M502.53 339.4V341.4M510.24 339.4V341.4M517.95 339.4V343M525.66 339.4V341.4M533.37 339.4V341.4" stroke="#2a2a2a" stroke-width="1.1" fill="none"/>
<path d="M400.35 336.52h3.9v3.9h-3.9zM400.35 336.29h3.9v3.9h-3.9zM400.35 336.06h3.9v3.9h-3.9zM408.06 336.52h3.9v3.9h-3.9zM408.06 336.29h3.9v3.9h-3.9zM408.06 336.06h3.9v3.9h-3.9zM415.77 335.71h3.9v3.9h-3.9zM415.77 335.13h3.9v3.9h-3.9zM415.77 334.55h3.9v3.9h-3.9zM423.48 336.29h3.9v3.9h-3.9zM423.48 336.06h3.9v3.9h-3.9zM423.48 335.71h3.9v3.9h-3.9zM431.19 336.29h3.9v3.9h-3.9zM431.19 334.55h3.9v3.9h-3.9zM431.19 332.81h3.9v3.9h-3.9zM438.9 335.13h3.9v3.9h-3.9zM438.9 332.81h3.9v3.9h-3.9zM438.9 330.48h3.9v3.9h-3.9zM446.61 336.87h3.9v3.9h-3.9zM446.61 334.55h3.9v3.9h-3.9zM446.61 332.23h3.9v3.9h-3.9zM454.32 333.97h3.9v3.9h-3.9zM454.32 331.64h3.9v3.9h-3.9zM454.32 330.48h3.9v3.9h-3.9zM462.03 336.29h3.9v3.9h-3.9zM462.03 333.39h3.9v3.9h-3.9zM462.03 331.06h3.9v3.9h-3.9zM469.74 333.39h3.9v3.9h-3.9zM469.74 331.06h3.9v3.9h-3.9zM469.74 329.9h3.9v3.9h-3.9zM477.45 332.23h3.9v3.9h-3.9zM477.45 329.9h3.9v3.9h-3.9zM477.45 328.16h3.9v3.9h-3.9zM485.16 332.81h3.9v3.9h-3.9zM485.16 331.06h3.9v3.9h-3.9zM485.16 329.32h3.9v3.9h-3.9zM492.87 333.97h3.9v3.9h-3.9zM492.87 332.81h3.9v3.9h-3.9zM492.87 331.06h3.9v3.9h-3.9zM500.58 332.81h3.9v3.9h-3.9zM500.58 331.64h3.9v3.9h-3.9zM500.58 330.48h3.9v3.9h-3.9zM508.29 332.81h3.9v3.9h-3.9zM508.29 329.32h3.9v3.9h-3.9zM508.29 327h3.9v3.9h-3.9zM516 335.13h3.9v3.9h-3.9zM516 333.97h3.9v3.9h-3.9zM516 332.81h3.9v3.9h-3.9zM523.71 335.13h3.9v3.9h-3.9zM523.71 333.97h3.9v3.9h-3.9zM523.71 332.23h3.9v3.9h-3.9z" fill="#0f84fb"/>
<path d="M402.3 338.24C407.44 338.01 422.86 337.39 433.14 336.85C443.42 336.3 453.7 335.43 463.98 334.99C474.26 334.54 484.54 334.25 494.82 334.18C505.1 334.1 520.52 334.47 525.66 334.52" stroke="#3a9ef8" stroke-width="1" fill="none"/>
<circle cx="402.3" cy="338.82" r="1.95"/>
<circle cx="402.3" cy="339.4" r="1.95"/>
<circle cx="402.3" cy="338.24" r="1.95"/>
<circle cx="410.01" cy="338.82" r="1.95"/>
<circle cx="410.01" cy="339.4" r="1.95"/>
<circle cx="410.01" cy="338.24" r="1.95"/>
<circle cx="417.72" cy="337.66" r="1.95"/>
<circle cx="417.72" cy="338.24" r="1.95"/>
<circle cx="417.72" cy="337.08" r="1.95"/>
<circle cx="425.43" cy="337.66" r="1.95"/>
<circle cx="425.43" cy="338.24" r="1.95"/>
<circle cx="425.43" cy="337.08" r="1.95"/>
<circle cx="433.14" cy="320.24" r="1.95"/>
<circle cx="433.14" cy="322.57" r="1.95"/>
<circle cx="433.14" cy="326.63" r="1.95"/>
<circle cx="440.85" cy="321.4" r="1.95"/>
<circle cx="440.85" cy="324.31" r="1.95"/>
<circle cx="440.85" cy="326.05" r="1.95"/>
<circle cx="448.56" cy="311.54" r="1.95"/>
<circle cx="448.56" cy="317.92" r="1.95"/>
<circle cx="448.56" cy="326.05" r="1.95"/>
<circle cx="456.27" cy="299.93" r="1.95"/>
<circle cx="456.27" cy="306.89" r="1.95"/>
<circle cx="456.27" cy="310.96" r="1.95"/>
<circle cx="463.98" cy="261.03" r="1.95"/>
<circle cx="463.98" cy="299.93" r="1.95"/>
<circle cx="463.98" cy="331.27" r="1.95"/>
<circle cx="471.69" cy="290.64" r="1.95"/>
<circle cx="471.69" cy="303.99" r="1.95"/>
<circle cx="471.69" cy="320.82" r="1.95"/>
<circle cx="479.4" cy="284.25" r="1.95"/>
<circle cx="479.4" cy="290.64" r="1.95"/>
<circle cx="479.4" cy="303.41" r="1.95"/>
<circle cx="487.11" cy="280.77" r="1.95"/>
<circle cx="487.11" cy="285.99" r="1.95"/>
<circle cx="487.11" cy="297.02" r="1.95"/>
<circle cx="494.82" cy="288.9" r="1.95"/>
<circle cx="494.82" cy="294.12" r="1.95"/>
<circle cx="494.82" cy="295.86" r="1.95"/>
<circle cx="502.53" cy="259.29" r="1.95"/>
<circle cx="502.53" cy="282.51" r="1.95"/>
<circle cx="502.53" cy="288.32" r="1.95"/>
<circle cx="510.24" cy="263.93" r="1.95"/>
<circle cx="510.24" cy="276.13" r="1.95"/>
<circle cx="510.24" cy="283.09" r="1.95"/>
<circle cx="517.95" cy="297.6" r="1.95"/>
<circle cx="517.95" cy="299.93" r="1.95"/>
<circle cx="517.95" cy="306.89" r="1.95"/>
<circle cx="525.66" cy="293.54" r="1.95"/>
<circle cx="525.66" cy="299.93" r="1.95"/>
<circle cx="525.66" cy="305.15" r="1.95"/>
<path d="M402.3 339.4C404.87 339.01 412.58 338.63 417.72 337.08C422.86 335.53 428 333.3 433.14 330.11C438.28 326.92 443.42 322.18 448.56 317.92C453.7 313.66 458.84 308.63 463.98 304.57C469.12 300.51 474.26 296.54 479.4 293.54C484.54 290.54 490.96 287.87 494.82 286.57C498.68 285.28 499.96 285.57 502.53 285.76C505.1 285.96 507.67 286.63 510.24 287.74C512.81 288.84 515.38 290.54 517.95 292.38C520.52 294.22 524.38 297.7 525.66 298.76" stroke="#1f9d55" stroke-width="1" fill="none"/>
<path d="M400 248.6h10" stroke="#1f9d55" stroke-width="0.9"/>
<circle cx="405" cy="248.6" r="1.95" fill="#077a17"/>
<path d="M400 259.9h10" stroke="#3a9ef8" stroke-width="0.9"/>
<rect x="403.05" y="257.95" width="3.9" height="3.9" fill="#0f84fb"/>
<text x="415.5" y="250.8" class="lg">75% <tspan font-style="italic">So</tspan></text>
<text x="415.5" y="262.1" class="lg">25% <tspan font-style="italic">Ma</tspan></text>
<text x="464.77" y="361.3" text-anchor="middle" class="tl">Time (d)</text>
</g>
<text x="213.5" y="23.9" text-anchor="middle" class="lt">a</text>
<text x="367.7" y="23.9" text-anchor="middle" class="lt">b</text>
<text x="528.5" y="24.2" text-anchor="middle" class="lt">c</text>
<text x="214" y="138.7" text-anchor="middle" class="lt">d</text>
<text x="371.3" y="139" text-anchor="middle" class="lt">e</text>
<text x="530.5" y="138.7" text-anchor="middle" class="lt">f</text>
<text x="213.8" y="254" text-anchor="middle" class="lt">g</text>
<text x="371.8" y="253.8" text-anchor="middle" class="lt">h</text>
<text x="534.2" y="254" text-anchor="middle" class="lt">i</text>
</svg></body></html>
